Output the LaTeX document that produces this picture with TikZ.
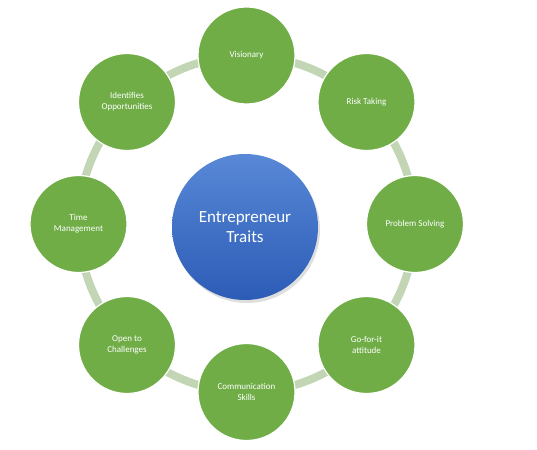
\documentclass[tikz,border=0pt]{standalone}
\usepackage{fontspec}
\setmainfont{Carlito}
\usepackage{tikz}
\usetikzlibrary{calc,positioning,shapes,shadows}
\definecolor{TraitGreen}{RGB}{112,173,71}
\definecolor{RingGreen}{RGB}{194,214,182}
\definecolor{HubTop}{RGB}{88,136,214}
\definecolor{HubBottom}{RGB}{44,92,182}
\tikzstyle{Trait} = [circle, draw=white, line width=1.2pt, fill=TraitGreen,
    minimum size=97pt, inner sep=0pt, text=white, align=center,
    font=\fontsize{9}{11}\selectfont]
\tikzstyle{Hub} = [circle, top color=HubTop, bottom color=HubBottom, draw=none,
    minimum size=146pt, inner sep=0pt, text=white, align=center,
    font=\fontsize{17}{20}\selectfont,
    drop shadow={shadow xshift=2pt, shadow yshift=-3pt, opacity=0.25}]
\tikzstyle{Ring} = [RingGreen, line width=8pt]

\begin{document}
\begin{tikzpicture}[x=1pt, y=-1pt]
        \useasboundingbox [fill=white] (0,0) rectangle (537,449);
        \coordinate (RingCentre) at (246.7,224);
        \draw [Ring] (RingCentre) circle (168); %ring behind the traits
        \node[Trait] (Visionary) at (246.5,55.5) {Visionary};
        \node[Trait] (RiskTaking) at (366.5,102) {Risk Taking};
        \node[Trait] (ProblemSolving) at (415,224) {Problem Solving};
        \node[Trait] (GoForIt) at (366.5,345) {Go-for-it\\attitude};
        \node[Trait] (Communication) at (246.5,392) {Communication\\Skills};
        \node[Trait] (OpenChallenges) at (127,345) {Open to\\Challenges};
        \node[Trait] (TimeManagement) at (78.5,224) {Time\\Management};
        \node[Trait] (Opportunities) at (127,102) {Identifies\\Opportunities};
        \node[Hub] (Traits) at (245,227) {Entrepreneur\\Traits}; %centre circle
    \end{tikzpicture}
\end{document}
